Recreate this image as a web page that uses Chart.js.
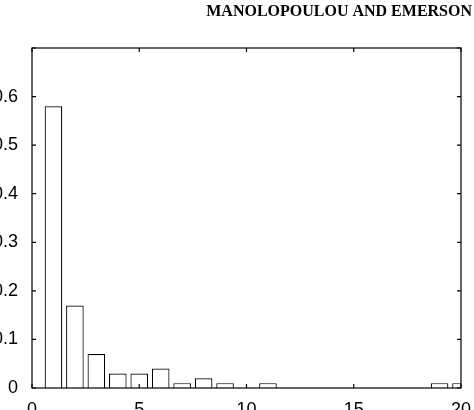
<!DOCTYPE html><html><head><style>html,body{margin:0;background:#fff}#w{width:474px;height:410px}</style>
<script src="https://cdn.jsdelivr.net/npm/chart.js@4"></script></head><body><div id="w"><canvas id="c"></canvas></div>
<script>
const xs=[1,2,3,4,5,6,7,8,9,11,19,20];
const ys=[0.58,0.17,0.07,0.03,0.03,0.04,0.01,0.02,0.01,0.01,0.01,0.01];
const xTicks=[0,5,10,15,20];
const titleText='MANOLOPOULOU AND EMERSON';
const frame={id:'frame',afterDraw(ch){const c=ch.ctx,a=ch.chartArea,sx=ch.scales.x,sy=ch.scales.y;
c.save();c.strokeStyle='#000';c.lineWidth=1.2;c.strokeRect(a.left,a.top,a.right-a.left,a.bottom-a.top);
c.beginPath();xTicks.forEach(v=>{const p=sx.getPixelForValue(v);c.moveTo(p,a.bottom);c.lineTo(p,a.bottom-4);c.moveTo(p,a.top);c.lineTo(p,a.top+4);});
for(let i=0;i<=7;i++){const p=sy.getPixelForValue(i/10);c.moveTo(a.left,p);c.lineTo(a.left+4,p);c.moveTo(a.right,p);c.lineTo(a.right-4,p);}
c.stroke();
c.font='bold 16px "Liberation Serif"';c.fillStyle='#000';c.textAlign='right';c.textBaseline='middle';c.fillText(titleText,472,12);c.restore();}};
new Chart(document.getElementById('c'),{type:'bar',data:{datasets:[{data:xs.map((x,i)=>({x,y:ys[i]})),backgroundColor:'#fff',borderColor:'#000',borderWidth:1.2,categoryPercentage:0.82,barPercentage:1}]},
options:{responsive:true,maintainAspectRatio:false,animation:false,layout:{padding:{top:48,right:11,left:0,bottom:0}},
plugins:{legend:{display:false},tooltip:{enabled:false}},
scales:{x:{type:'linear',min:0,max:20,offset:false,grid:{display:false},border:{display:false},
afterBuildTicks(s){s.ticks=xTicks.map(v=>({value:v}));},afterFit(s){s.height=22;},
ticks:{color:'#000',font:{family:'Liberation Sans',size:18},padding:3,maxRotation:0,autoSkip:false}},
y:{min:0,max:0.7,grid:{display:false},border:{display:false},afterFit(s){s.width=32;},
ticks:{stepSize:0.1,color:'#000',font:{family:'Liberation Sans',size:18},padding:6,callback:v=>{v=Math.round(v*10)/10;return v>=0.7?'':(v===0?'0':v.toFixed(1));}}}}},
plugins:[frame]});
</script></body></html>
